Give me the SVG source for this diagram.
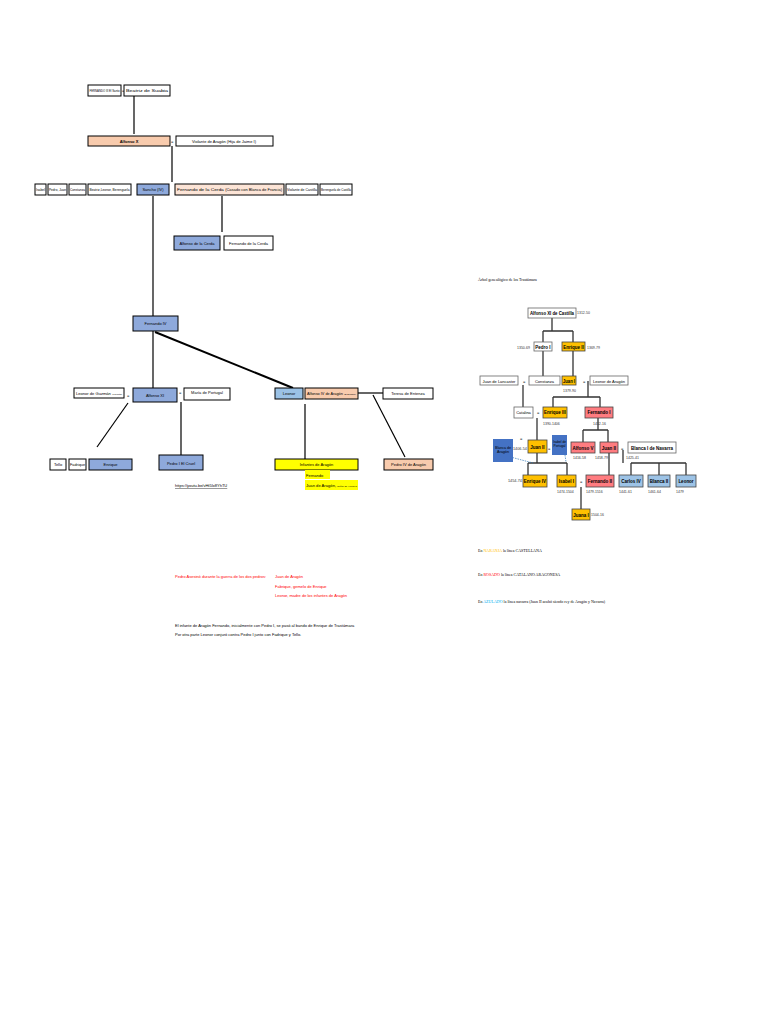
<svg xmlns="http://www.w3.org/2000/svg" width="768" height="1024" viewBox="0 0 768 1024">
<style>
text{font-family:"Liberation Sans",Arial,sans-serif;font-size:4px;fill:#000}
.b{stroke:#000;stroke-width:1}
.w{fill:#fff}.p{fill:#f8cbad}.bl{fill:#8ea9db}.lb{fill:#9bc2e6}.y{fill:#ffff00}
.ln{stroke:#000;stroke-width:1.2;fill:none}
.tl{stroke:#333;stroke-width:1.3;fill:none}
.r text,.r{font-family:"Liberation Serif",serif}
.tw{fill:#fff;stroke:#666;stroke-width:0.8}
.ty{fill:#ffc000;stroke:#444;stroke-width:0.8}
.tp{fill:#ff7c80;stroke:#444;stroke-width:0.8}
.tb{fill:#9dc3e6;stroke:#444;stroke-width:0.8}
.n{font-size:4.5px;font-weight:bold}
.yr{font-size:3.5px;fill:#333}
.red{fill:#ff0000}
</style>
<rect width="768" height="1024" fill="#fff"/>
<g id="connectors">
<line class="ln" x1="134" y1="96" x2="134" y2="134"/>
<line class="ln" x1="172" y1="146" x2="172" y2="182"/>
<line class="ln" x1="222" y1="196" x2="222" y2="232"/>
<line class="ln" x1="153" y1="196" x2="153" y2="316"/>
<line class="ln" x1="153" y1="331" x2="153" y2="388"/>
<line x1="155" y1="332" x2="293" y2="388" stroke="#000" stroke-width="2"/>
<line class="ln" x1="128" y1="403" x2="97" y2="447"/>
<line class="ln" x1="181" y1="402" x2="181" y2="455"/>
<line class="ln" x1="305" y1="404" x2="305" y2="460"/>
<line class="ln" x1="358" y1="393" x2="383" y2="393"/>
<line class="ln" x1="373" y1="395" x2="405" y2="457"/>
</g>
<g id="fernando3"><rect class="b w" x="88" y="85" width="33" height="11"/><text x="89.5" y="92" textLength="30" lengthAdjust="spacingAndGlyphs">FERNANDO III El Santo</text></g>
<text x="122" y="92" font-size="3.5">=</text>
<g id="beatriz"><rect class="b w" x="124" y="85" width="46" height="11"/><text x="126" y="92" textLength="42" lengthAdjust="spacingAndGlyphs">Beatriz de Suabia</text></g>
<g id="alfonsoX"><rect class="b p" x="88" y="136" width="82" height="10"/><text x="129" y="143" text-anchor="middle" font-weight="bold" font-size="5">Alfonso X</text></g>
<text x="171" y="143">=</text>
<g id="violante"><rect class="b w" x="176" y="136" width="97" height="10"/><text x="224" y="143" text-anchor="middle">Violante de Aragón (Hija de Jaime I)</text></g>
<g id="isabel"><rect class="b w" x="35" y="184" width="11" height="11"/><text x="36" y="191" textLength="9" lengthAdjust="spacingAndGlyphs">Isabel</text></g>
<g id="pedrojuan"><rect class="b w" x="48" y="184" width="19" height="11"/><text x="49" y="191" textLength="17" lengthAdjust="spacingAndGlyphs">Pedro, Juan</text></g>
<g id="constanza"><rect class="b w" x="69" y="184" width="17" height="11"/><text x="70" y="191" textLength="15" lengthAdjust="spacingAndGlyphs">Constanza</text></g>
<g id="beatrizleonor"><rect class="b w" x="88" y="184" width="43" height="11"/><text x="89.5" y="191" textLength="40" lengthAdjust="spacingAndGlyphs">Beatriz,Leonor, Berenguela</text></g>
<g id="sancho"><rect class="b bl" x="137" y="184" width="32" height="11"/><text x="153" y="191" text-anchor="middle">Sancho (IV)</text></g>
<g id="fcerda"><rect class="b" fill="#fce4d6" x="175" y="184" width="109" height="11"/><text x="177" y="191" textLength="105" lengthAdjust="spacingAndGlyphs">Fernando de la Cerda <tspan font-size="3.3">(Casado con Blanca de Francia)</tspan></text></g>
<g id="violcast"><rect class="b w" x="286" y="184" width="32" height="11"/><text x="287" y="191" textLength="30" lengthAdjust="spacingAndGlyphs">Violante de Castilla</text></g>
<g id="leoncast"><rect class="b w" x="320" y="184" width="32" height="11"/><text x="321" y="191" textLength="30" lengthAdjust="spacingAndGlyphs">Berenguela de Castilla</text></g>
<g id="acerda"><rect class="b bl" x="174" y="236" width="46" height="14"/><text x="197" y="245" text-anchor="middle">Alfonso de la Cerda</text></g>
<g id="fcerda2"><rect class="b w" x="224" y="236" width="49" height="14"/><text x="248.5" y="244.5" text-anchor="middle" font-size="3.3">Fernando de la Cerda</text></g>
<g id="fernando4"><rect class="b bl" x="133" y="316" width="45" height="15"/><text x="155.5" y="325" text-anchor="middle">Fernando IV</text></g>
<g id="guzman"><rect class="b w" x="74" y="388" width="50" height="10"/><text x="76" y="394.5" textLength="46" lengthAdjust="spacingAndGlyphs">Leonor de Guzmán <tspan font-size="2.3">(Favorita)</tspan></text></g>
<text x="127" y="397">=</text>
<g id="alfonsoXI"><rect class="b bl" x="133" y="388" width="44" height="14"/><text x="155" y="397" text-anchor="middle">Alfonso XI</text></g>
<text x="179" y="394">=</text>
<g id="maria"><rect class="b w" x="184" y="388" width="46" height="12"/><text x="207" y="394" text-anchor="middle" font-size="3.3">María de Portugal</text></g>
<g id="tello"><rect class="b w" x="50" y="459" width="16" height="11"/><text x="58" y="466" text-anchor="middle" font-size="3">Tello</text></g>
<g id="fadrique"><rect class="b w" x="69" y="459" width="17" height="11"/><text x="70" y="466" textLength="15" lengthAdjust="spacingAndGlyphs">Fadrique</text></g>
<g id="enrique"><rect class="b bl" x="89" y="459" width="43" height="11"/><text x="110.5" y="466" text-anchor="middle">Enrique</text></g>
<g id="pedro1"><rect class="b bl" x="159" y="455" width="44" height="15"/><text x="181" y="464.5" text-anchor="middle">Pedro I  El Cruel</text></g>
<text x="175" y="487" fill="#0563c1" text-decoration="underline">https://youtu.be/vHt5Ix8YhTU</text>
<g id="leonor"><rect class="b lb" x="275" y="388" width="28" height="11"/><text x="289" y="395" text-anchor="middle">Leonor</text></g>
<g id="alfonso4"><rect class="b p" x="305" y="388" width="53" height="11"/><text x="307" y="395" textLength="49" lengthAdjust="spacingAndGlyphs">Alfonso IV de Aragón <tspan font-size="2.3">(El Benigno)</tspan></text></g>
<g id="teresa"><rect class="b w" x="383" y="388" width="50" height="11"/><text x="408" y="395" text-anchor="middle">Teresa de Entenza</text></g>
<g id="infantes"><rect class="b y" x="275" y="459" width="83" height="11"/><text x="316.5" y="466" text-anchor="middle">Infantes de Aragón</text>
<rect class="y" x="305" y="470" width="25" height="9"/><text x="306" y="476.5">Fernando</text>
<rect class="y" x="305" y="480" width="53" height="10"/><text x="306" y="486.5" textLength="51" lengthAdjust="spacingAndGlyphs">Juan de Aragón, <tspan font-size="2.5">señor de Vizcaya</tspan></text></g>
<g id="pedro4"><rect class="b p" x="384" y="459" width="49" height="11"/><text x="408.5" y="466" text-anchor="middle">Pedro IV de Aragón</text></g>
<text class="red" x="175" y="578">Pedro Asesinó durante la guerra de los dos pedros:</text>
<text class="red" x="275" y="578">Juan de Aragón</text>
<text class="red" x="275" y="588">Fabrique, gemelo de Enrique</text>
<text class="red" x="275" y="597">Leonor, madre de los infantes de Aragón</text>
<text x="175" y="627">El infante de Aragón Fernando, inicialmente con Pedro I, se pasó al bando de Enrique de Trastámara</text>
<text x="175" y="636">Por otra parte Leonor conjuró contra Pedro I junto con Fadrique y Tello.</text>
<g id="trastamara">
<text class="r" x="478" y="281" font-size="6.5">Árbol genealógico de los Trastámara</text>
<g class="tl">
<path d="M552 318V331M543 331H573M543 331V342M573 331V342"/>
<path d="M543 351V376M573 351V376"/>
<path d="M523 385V407"/>
<path d="M588 381V397M553 397H600M553 397V407M600 397V407"/>
<path d="M537 418V440"/>
<path d="M598 418V430M583 430H608M583 430V442M608 430V442"/>
<path d="M537 453V463M528 463H567M528 463V475M567 463V475"/>
<path d="M609 453V475"/>
<path d="M623 450V463M631 463H686M631 463V475M659 463V475M686 463V475"/>
<path d="M581 487V509"/>
</g>
<g stroke="#2e75b6" stroke-width="0.7" stroke-dasharray="1.5,1" fill="none"><path d="M503 455L533 463M565 455L566 462"/></g>
<rect class="tw" x="528" y="308" width="48" height="10"/><text class="n" x="530" y="315" textLength="44" lengthAdjust="spacingAndGlyphs">Alfonso XI de Castilla</text><text class="yr" x="577" y="314">1312-50</text>
<rect class="tw" x="534" y="342" width="18" height="9"/><text class="n" x="543" y="348.5" text-anchor="middle">Pedro I</text><text class="yr" x="517" y="348.5">1350-69</text>
<rect class="ty" x="562" y="342" width="23" height="9"/><text class="n" x="573.5" y="348.5" text-anchor="middle">Enrique II</text><text class="yr" x="587" y="348.5">1369-79</text>
<rect class="tw" x="480" y="376" width="38" height="9"/><text x="499" y="382.5" text-anchor="middle" font-size="4">Juan de Lancaster</text><text x="523" y="382.5" font-size="4">=</text>
<rect class="tw" x="529" y="376" width="31" height="9"/><text x="544.5" y="382.5" text-anchor="middle" font-size="4">Constanza</text>
<rect class="ty" x="562" y="376" width="14" height="9"/><text class="n" x="563" y="382.5" textLength="12" lengthAdjust="spacingAndGlyphs">Juan I</text><text x="583" y="382.5" font-size="4">=</text>
<rect class="tw" x="590" y="376" width="38" height="9"/><text x="609" y="382.5" text-anchor="middle" font-size="4">Leonor de Aragón</text><text class="yr" x="563" y="392">1379-90</text>
<rect class="tw" x="514" y="407" width="19" height="11"/><text x="523.5" y="414" text-anchor="middle" font-size="3.5">Catalina</text><text x="537" y="414" font-size="4">=</text>
<rect class="ty" x="543" y="407" width="24" height="11"/><text class="n" x="555" y="414" text-anchor="middle">Enrique III</text><text class="yr" x="543" y="425">1390-1406</text>
<rect class="tp" x="585" y="407" width="28" height="11"/><text class="n" x="599" y="414" text-anchor="middle">Fernando I</text><text class="yr" x="593" y="425">1412-16</text>
<rect x="493" y="439" width="20" height="23" fill="#4472c4"/><text x="495" y="449" textLength="16" lengthAdjust="spacingAndGlyphs" font-size="2.2" fill="#fff">Blanca de</text><text x="497" y="453" textLength="12" lengthAdjust="spacingAndGlyphs" font-size="2.2" fill="#fff">Aragón</text>
<rect x="552" y="435" width="15" height="20" fill="#4472c4"/><text x="553" y="443" textLength="13" lengthAdjust="spacingAndGlyphs" font-size="1.9" fill="#fff">Isabel de</text><text x="553.5" y="447" textLength="12" lengthAdjust="spacingAndGlyphs" font-size="1.9" fill="#fff">Portugal</text>
<text x="520" y="440" font-size="4">=</text><text class="yr" x="513" y="450" textLength="14" lengthAdjust="spacingAndGlyphs">1406-54</text>
<rect class="ty" x="528" y="440" width="19" height="13"/><text class="n" x="537.5" y="448.5" text-anchor="middle">Juan II</text><text x="548" y="450" font-size="4">=</text>
<rect class="tp" x="571" y="442" width="24" height="11"/><text class="n" x="583" y="449.5" text-anchor="middle">Alfonso V</text><text class="yr" x="573" y="459">1416-58</text>
<rect class="tp" x="600" y="442" width="18" height="11"/><text class="n" x="609" y="449.5" text-anchor="middle">Juan II</text><text class="yr" x="595" y="459">1458-79</text><text x="621" y="449.5" font-size="4">=</text>
<rect class="tw" x="628" y="442" width="48" height="11"/><text class="n" x="652" y="449.5" text-anchor="middle">Blanca I de Navarra</text><text class="yr" x="626" y="459">1425-41</text>
<rect class="ty" x="523" y="475" width="24" height="12"/><text class="n" x="535" y="483" text-anchor="middle">Enrique IV</text><text class="yr" x="508" y="482" textLength="14" lengthAdjust="spacingAndGlyphs">1454-74</text>
<rect class="ty" x="557" y="475" width="19" height="12"/><text class="n" x="566.5" y="483" text-anchor="middle">Isabel I</text><text class="yr" x="557" y="493">1474-1504</text><text x="580" y="483" font-size="4">=</text>
<rect class="tp" x="586" y="475" width="28" height="12"/><text class="n" x="600" y="483" text-anchor="middle">Fernando II</text><text class="yr" x="586" y="493">1479-1516</text>
<rect class="tb" x="619" y="475" width="24" height="12"/><text class="n" x="631" y="483" text-anchor="middle">Carlos IV</text><text class="yr" x="619" y="493">1441-61</text>
<rect class="tb" x="648" y="475" width="22" height="12"/><text class="n" x="659" y="483" text-anchor="middle">Blanca II</text><text class="yr" x="648" y="493">1461-64</text>
<rect class="tb" x="676" y="475" width="20" height="12"/><text class="n" x="686" y="483" text-anchor="middle">Leonor</text><text class="yr" x="676" y="493">1479</text>
<rect class="ty" x="572" y="509" width="18" height="11"/><text class="n" x="581" y="516.5" text-anchor="middle">Juana I</text><text class="yr" x="591" y="516">1504-16</text>
</g>
<g class="r" font-size="6">
<text class="r" x="478" y="552" font-size="6">En <tspan fill="#ffc000">NARANJA</tspan> la línea CASTELLANA</text>
<text class="r" x="478" y="576" font-size="6">En <tspan fill="#ff0000">ROSADO</tspan> la línea CATALANO ARAGONESA</text>
<text class="r" x="478" y="603" font-size="6">En <tspan fill="#00b0f0">AZULADO</tspan> la línea navarra (Juan II acabó siendo rey de Aragón y Navarra)</text>
</g>
</svg>
